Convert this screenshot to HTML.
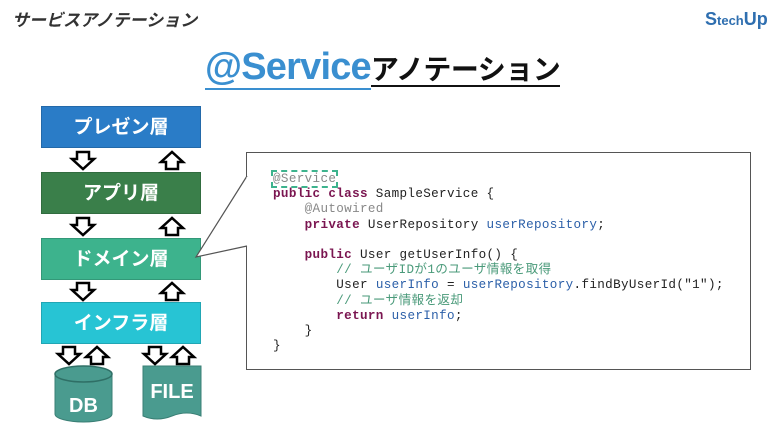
<!DOCTYPE html>
<html><head><meta charset="utf-8"><style>
body{margin:0;width:768px;height:432px;background:#fff;overflow:hidden;position:relative;font-family:"Liberation Sans","Noto Sans CJK JP",sans-serif}
.abs{position:absolute}
.box{position:absolute;left:41px;width:160px;height:42px;color:#fff;font-weight:bold;font-size:19px;text-align:center;line-height:42px;box-sizing:border-box;border:1px solid rgba(0,0,0,.15)}
.code{position:absolute;left:246px;top:152px;width:505px;height:218px;border:1.5px solid #555;box-sizing:border-box;background:#fff}
.code pre{margin:0;position:absolute;left:26px;top:19px;font-family:"Liberation Mono","Noto Sans CJK JP",monospace;font-size:12.6px;line-height:15.2px;color:#222;letter-spacing:0.35px}
.k{color:#7a1550;font-weight:bold}.g{color:#888}.c{color:#4a9a7a}.b{color:#2b5fa8}
</style></head><body>
<div class="abs" style="left:12px;top:6px;font-size:17px;font-weight:bold;font-style:italic;color:#333">サービスアノテーション</div>
<div class="abs" style="left:705px;top:9px;font-size:18px;color:#2f6fb0;font-weight:bold">S<span style="font-size:13px">tech</span>Up</div>
<div class="abs" style="left:205px;top:44px;font-size:38px;font-weight:bold;white-space:nowrap;line-height:46px;letter-spacing:-0.8px"><span style="color:#3a8fd0;border-bottom:2px solid #3a8fd0">@Service</span><span style="color:#111;border-bottom:2px solid #111;font-size:28px;letter-spacing:-0.5px">アノテーション</span></div>
<div class="box" style="top:106px;background:#2a7cc7">プレゼン層</div>
<div class="box" style="top:172px;background:#3a7f4a">アプリ層</div>
<div class="box" style="top:238px;background:#3db38d">ドメイン層</div>
<div class="box" style="top:302px;background:#27c4d4">インフラ層</div>
<svg class="abs" style="left:0;top:0" width="768" height="432">
<defs>
<g id="dn"><path d="M-6,0 h12 v7 h5 l-11,10 l-11,-10 h5z" fill="#fff" stroke="#000" stroke-width="2.5"/></g>
<g id="up"><path d="M-6,17 h12 v-7 h5 l-11,-10 l-11,10 h5z" fill="#fff" stroke="#000" stroke-width="2.5"/></g>
</defs>
<use href="#dn" x="83" y="152"/><use href="#up" x="172" y="152"/>
<use href="#dn" x="83" y="218"/><use href="#up" x="172" y="218"/>
<use href="#dn" x="83" y="283"/><use href="#up" x="172" y="283"/>
<use href="#dn" x="69" y="347"/><use href="#up" x="97" y="347"/>
<use href="#dn" x="155" y="347"/><use href="#up" x="183" y="347"/>
<path d="M55,374 v40 a28.5,8 0 0 0 57,0 v-40" fill="#4a9b8f" stroke="#3a7f75"/>
<ellipse cx="83.5" cy="374" rx="28.5" ry="8" fill="#4a9b8f" stroke="#2f6f66" stroke-width="1.5"/>
<text x="83.5" y="412" fill="#fff" font-size="20" font-weight="bold" text-anchor="middle" font-family="Liberation Sans">DB</text>
<path d="M143,366 h58 v50 q-14,-6 -29,0 q-15,6 -29,0z" fill="#4a9b8f" stroke="#3a7f75"/>
<text x="172" y="398" fill="#fff" font-size="20" font-weight="bold" text-anchor="middle" font-family="Liberation Sans">FILE</text>
</svg>
<div class="code"><pre><span class="g" style="outline:2px dashed #3db38d">@Service</span>
<span class="k">public class</span> SampleService {
    <span class="g">@Autowired</span>
    <span class="k">private</span> UserRepository <span class="b">userRepository</span>;

    <span class="k">public</span> User getUserInfo() {
        <span class="c">// ユーザIDが1のユーザ情報を取得</span>
        User <span class="b">userInfo</span> = <span class="b">userRepository</span>.findByUserId("1");
        <span class="c">// ユーザ情報を返却</span>
        <span class="k">return</span> <span class="b">userInfo</span>;
    }
}</pre></div>
<svg class="abs" style="left:0;top:0" width="768" height="432">
<path d="M247,176 L196,257 L247,246" fill="#fff" stroke="#555" stroke-width="1.2"/>
<rect x="246.5" y="177" width="2" height="68" fill="#fff"/>
</svg>
</body></html>
